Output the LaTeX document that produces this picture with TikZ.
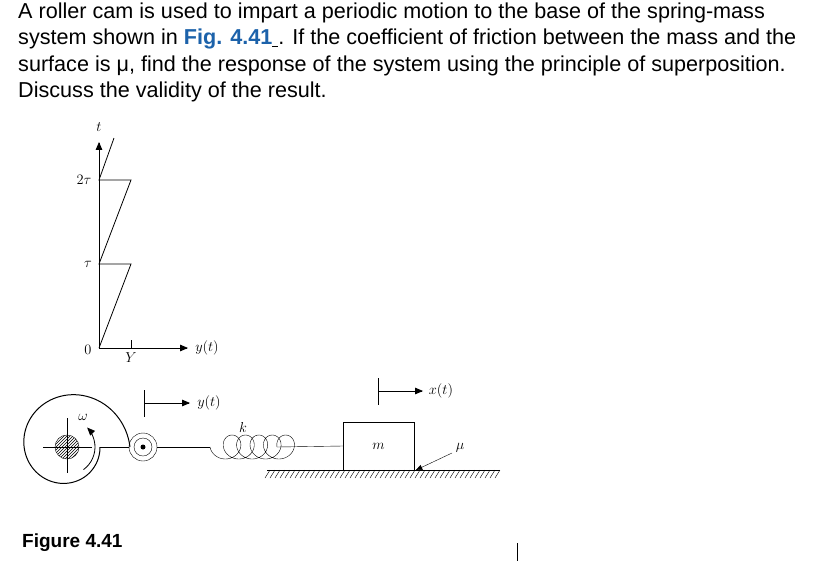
\documentclass[tikz,border=0pt]{standalone}
\usepackage{fontspec}
\setmainfont{Liberation Sans}
\usetikzlibrary{arrows,patterns}
\definecolor{linkblue}{RGB}{28,98,170}
\tikzstyle{para} = [anchor=west,inner sep=0pt,font=\fontsize{21.6}{26}\selectfont]
\tikzstyle{lbl} = [inner sep=0pt,font=\fontsize{14}{16}\selectfont]
\tikzstyle{fig} = [line width=1pt]
\tikzset{>={triangle 45}}
\begin{document}
\begin{tikzpicture}[x=1pt,y=-1pt]
  \useasboundingbox (0,0) rectangle (832,563);
  % problem text
  \node [para] (l1) at (18,13) {A roller cam is used to impart a periodic motion to the base of the spring-mass};
  \node [para] (l2) at (18,39) {system shown in \textcolor{linkblue}{\textbf{Fig. 4.41}}\underline{\ }. If the coefficient of friction between the mass and the};
  \node [para] (l3) at (18,66) {surface is μ, find the response of the system using the principle of superposition.};
  \node [para] (l4) at (18,92) {Discuss the validity of the result.};

  % y(t) versus t
  \coordinate (o) at (99,348);
  \coordinate (ta) at (99,142);
  \coordinate (ya) at (188,348);
  \draw [->,thick] (o) -- (ta);
  \draw [->,thick] (o) -- (ya);
  \draw (131,348) -- (131,340);
  \draw [thick] (o) -- (131,264) -- (99,264) -- (131,180) -- (99,180) -- (114,138);
  \node [lbl] (tl) at (99,127) {$t$};
  \node [lbl] (yl) at (207,348) {$y(t)$};
  \node [lbl] (z) at (88,350) {$0$};
  \node [lbl] (t1) at (88,264) {$\tau$};
  \node [lbl] (t2) at (84,180) {$2\tau$};
  \node [lbl] (Yl) at (131,358) {$Y$};

  % cam
  \coordinate (c) at (67,447);
  \draw [fig] plot[domain=0:360,samples=90,smooth] ({67+(33+30*(1-\x/360)^1.6)*cos(\x)},{447-(33+30*(1-\x/360)^1.6)*sin(\x)});
  \draw (43,447) -- (92,447);
  \draw (67,418) -- (67,473);
  \draw [pattern=north east lines] (c) circle (12);
  \draw [->,thick] (c) ++(54:28) arc[start angle=54,end angle=-44,radius=28];
  \node [lbl] (w) at (83,417) {$\omega$};

  % follower, spring, mass
  \draw (100,447) -- (129,447);
  \node [draw,circle,minimum size=28pt,inner sep=0pt] (roll) at (143,447) {};
  \draw (roll) circle (9);
  \fill (roll) circle (2.5);
  \coordinate (s0) at (210,447);
  \coordinate (s1) at (277,447);
  \draw (roll.east) -- (s0);
  \draw plot[domain=0:1800,samples=200,smooth] ({222+0.03722*\x-12*cos(\x)},{447+12*sin(\x)});
  \node [lbl] (k) at (243,427) {$k$};
  \node [draw,minimum width=71pt,minimum height=48pt,inner sep=0pt] (m) at (378.5,446) {};
  \node [lbl] (ml) at (m) {$m$};
  \draw (s1) -- (m.west);
  \draw (267,470) -- (500,470);
  \foreach \i in {0,...,46} \draw (270+5*\i,470) -- (265+5*\i,478);
  \node [lbl] (mu) at (460,448) {$\mu$};
  \coordinate (mp) at (416,470);
  \draw [->] (452,453) -- (mp);

  % displacement markers
  \draw (144,390) -- (144,417);
  \draw [->,thick] (144,403) -- (190,403);
  \node [lbl] (yt) at (209,403) {$y(t)$};
  \draw (378,378) -- (378,405);
  \draw [->,thick] (378,391) -- (423,391);
  \node [lbl] (xt) at (441,391) {$x(t)$};

  \node [anchor=west,inner sep=0pt,font=\fontsize{19}{22}\selectfont\bfseries] (cap) at (22,543) {Figure 4.41};
  \draw (517,543) -- (517,561);
\end{tikzpicture}
\end{document}
